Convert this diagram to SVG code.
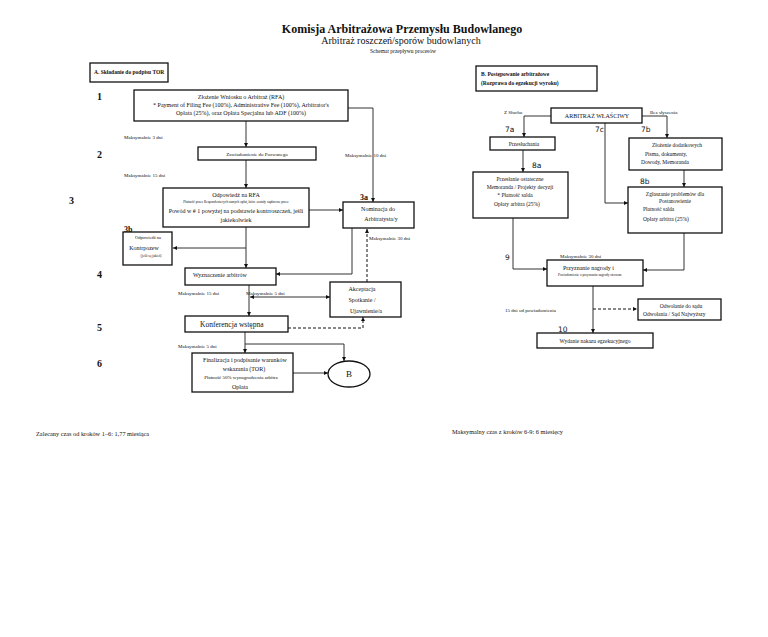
<svg xmlns="http://www.w3.org/2000/svg" width="768" height="637" viewBox="0 0 768 637">
<defs>
<marker id="ah" viewBox="0 0 10 10" refX="10" refY="5" markerWidth="4" markerHeight="4" orient="auto-start-reverse"><path d="M0,0 L10,5 L0,10 z" fill="#111"/></marker>
</defs>
<style>
text{font-family:"Liberation Serif","Times New Roman",serif;fill:#111}
.box{fill:#fff;stroke:#111;stroke-width:1.3}
.ln{fill:none;stroke:#333;stroke-width:1}
.ds{fill:none;stroke:#111;stroke-width:1;stroke-dasharray:3,2}
.num{font-weight:bold;font-size:10px}
.sn{font-size:7.5px;font-family:"DejaVu Sans","Liberation Sans",sans-serif}
.sm{font-size:5px}
.t6{font-size:6px}
.c{text-anchor:middle}
.lab{font-size:5px}
.hd{font-weight:bold;font-size:5.5px}
</style>
<rect width="768" height="637" fill="#fff"/>
<g id="title">
<text x="402" y="33" class="c" style="font-size:12px;font-weight:bold">Komisja Arbitrażowa Przemysłu Budowlanego</text>
<text x="401" y="44" class="c" style="font-size:10px">Arbitraż roszczeń/sporów budowlanych</text>
<text x="403" y="53" class="c" style="font-size:5.5px">Schemat przepływu procesów</text>
</g>
<g id="secA"><rect class="box" x="90" y="63" width="78" height="19"/><text x="94" y="74" class="hd">A. Składanie do podpisu TOR</text></g>
<g id="secB"><rect class="box" x="476" y="66" width="121" height="25"/><text x="481" y="76" class="hd">B. Postępowanie arbitrażowe</text><text x="481" y="85" class="hd">(Rozprawa do egzekucji wyroku)</text></g>
<g id="nums">
<text x="97" y="100" class="num">1</text>
<text x="97" y="158" class="num">2</text>
<text x="69" y="204" class="num">3</text>
<text x="97" y="278" class="num">4</text>
<text x="97" y="331" class="num">5</text>
<text x="97" y="367" class="num">6</text>
<text x="360" y="200" class="num" style="font-size:8px">3a</text>
<text x="124" y="232" class="num" style="font-size:8px">3b</text>
<text x="505" y="132" class="sn">7a</text>
<text x="595" y="132" class="sn">7c</text>
<text x="641" y="132" class="sn">7b</text>
<text x="532" y="168" class="sn">8a</text>
<text x="640" y="184" class="sn">8b</text>
<text x="505" y="260" class="sn">9</text>
<text x="558" y="332" class="sn">10</text>
</g>
<g id="labels" class="lab">
<text x="124" y="139">Maksymalnie 3 dni</text>
<text x="345" y="157">Maksymalnie 10 dni</text>
<text x="124" y="177">Maksymalnie 15 dni</text>
<text x="369" y="240">Maksymalnie 30 dni</text>
<text x="178" y="295">Maksymalnie 15 dni</text>
<text x="246" y="295">Maksymalnie 5 dni</text>
<text x="178" y="348">Maksymalnie 5 dni</text>
<text x="504" y="114">Z Słuchu</text>
<text x="650" y="114">Bez słyszenia</text>
<text x="560" y="258">Maksymalnie 30 dni</text>
<text x="505" y="312">15 dni od powiadomienia</text>
</g>
<g id="connectors">
<path class="ln" d="M246,121 V147" marker-end="url(#ah)"/>
<path class="ln" d="M348,108 H373 V202" marker-end="url(#ah)"/>
<path class="ln" d="M246,160 V188" marker-end="url(#ah)"/>
<path class="ln" d="M309,210 H343" marker-end="url(#ah)"/>
<path class="ln" d="M246,227 V268" marker-end="url(#ah)"/>
<path class="ln" d="M246,248 H173" marker-end="url(#ah)"/>
<path class="ln" d="M352,228 V274 H276" marker-end="url(#ah)"/>
<path class="ds" d="M367,282 V229" marker-end="url(#ah)"/>
<path class="ln" d="M249,285 V316" marker-end="url(#ah)"/>
<path class="ln" d="M250,297 H330" marker-start="url(#ah)" marker-end="url(#ah)"/>
<path class="ds" d="M288,328 H363 V317" marker-end="url(#ah)"/>
<path class="ln" d="M245,332 V353" marker-end="url(#ah)"/>
<path class="ln" d="M245,344 H344 V361" marker-end="url(#ah)"/>
<path class="ln" d="M293,373 H328" marker-end="url(#ah)"/>
<path class="ln" d="M551,116 H524 V137" marker-end="url(#ah)"/>
<path class="ln" d="M642,116 H667 V138" marker-end="url(#ah)"/>
<path class="ln" d="M605,123 V203 H628" marker-end="url(#ah)"/>
<path class="ln" d="M523,150 V172" marker-end="url(#ah)"/>
<path class="ln" d="M684,170 V187" marker-end="url(#ah)"/>
<path class="ln" d="M513,218 V269 H547" marker-end="url(#ah)"/>
<path class="ln" d="M684,233 V270 H643" marker-end="url(#ah)"/>
<path class="ln" d="M593,286 V333" marker-end="url(#ah)"/>
<path class="ds" d="M593,309 H637" marker-end="url(#ah)"/>
</g>
<g id="n1"><rect class="box" x="134" y="90" width="214" height="31"/>
<text x="241" y="99" class="c t6">Złożenie Wniosku o Arbitraż (RFA)</text>
<text x="241" y="107" class="c t6">* Payment of Filing Fee (100%), Administrative Fee (100%), Arbitrator's</text>
<text x="241" y="115" class="c t6">Opłata (25%), oraz Opłata Specjalna lub ADF (100%)</text></g>
<g id="n2"><rect class="box" x="198" y="147" width="118" height="13"/><text x="257" y="156" class="c sm">Zawiadomienie do Pozwanego</text></g>
<g id="n3"><rect class="box" x="163" y="188" width="146" height="39"/>
<text x="236" y="197" class="c t6">Odpowiedź na RFA</text>
<text x="236" y="203" class="c" style="font-size:3.4px">Płatność przez Respondenta tych samych opłat, które zostały zapłacone przez</text>
<text x="236" y="213" class="c t6">Powód w # 1 powyżej na podstawie kontrroszczeń, jeśli</text>
<text x="236" y="222" class="c t6">jakiekolwiek</text></g>
<g id="n3a"><rect class="box" x="343" y="202" width="71" height="26"/>
<text x="378" y="211" class="c t6">Nominacja do</text><text x="381" y="221" class="c t6">Arbitratysta/y</text></g>
<g id="n3b"><rect class="box" x="123" y="232" width="49" height="33"/>
<text x="148" y="239" class="c" style="font-size:4.5px">Odpowiedź na</text>
<text x="144" y="250" class="c t6">Kontrpozew</text>
<text x="151" y="257" class="c" style="font-size:3.5px">(jeśli są jakieś)</text></g>
<g id="n4"><rect class="box" x="185" y="268" width="91" height="17"/><text x="193" y="277" class="t6">Wyznaczenie arbitrów</text></g>
<g id="nAk"><rect class="box" x="330" y="282" width="71" height="35"/>
<text x="362" y="291" class="c t6">Akceptacja</text><text x="362" y="302" class="c t6">Spotkanie /</text><text x="366" y="313" class="c t6">Ujawnienie/a</text></g>
<g id="n5"><rect class="box" x="185" y="316" width="103" height="16"/><text x="200" y="327" style="font-size:7.5px">Konferencja wstępna</text></g>
<g id="n6"><rect class="box" x="192" y="353" width="101" height="39"/>
<text x="245" y="362" class="c t6">Finalizacja i podpisanie warunków</text>
<text x="244" y="371" class="c t6">wskazania (TOR)</text>
<text x="241" y="379" class="c" style="font-size:5px">Płatność 50% wynagrodzenia arbitra</text>
<text x="240" y="389" class="c t6">Opłata</text></g>
<g id="nB"><ellipse class="box" cx="349" cy="374" rx="21" ry="13"/><text x="349" y="377" class="c" style="font-size:9px">B</text></g>
<g id="nArb"><rect class="box" x="551" y="108" width="91" height="15"/><text x="597" y="118" class="c t6">ARBITRAŻ WŁAŚCIWY</text></g>
<g id="n7a"><rect class="box" x="490" y="137" width="65" height="13"/><text x="524" y="146" class="c" style="font-size:5.5px">Przesłuchania</text></g>
<g id="n8a"><rect class="box" x="473" y="172" width="95" height="46"/>
<text x="520" y="181" class="c" style="font-size:5.5px">Przesłanie ostateczne</text>
<text x="520" y="189" class="c" style="font-size:5.5px">Memoranda / Projekty decyzji</text>
<text x="515" y="197" class="c" style="font-size:5.5px">* Płatność salda</text>
<text x="517" y="206" class="c" style="font-size:5.5px">Opłaty arbitra (25%)</text></g>
<g id="n7b"><rect class="box" x="629" y="138" width="93" height="32"/>
<text x="677" y="147" class="c" style="font-size:5.5px">Złożenie dodatkowych</text>
<text x="666" y="156" class="c" style="font-size:5.5px">Pisma, dokumenty,</text>
<text x="665" y="164" class="c" style="font-size:5.5px">Dowody, Memoranda</text></g>
<g id="n8b"><rect class="box" x="628" y="187" width="94" height="46"/>
<text x="675" y="196" class="c" style="font-size:5.5px">Zgłaszanie problemów dla</text>
<text x="675" y="203" class="c" style="font-size:5.5px">Postanowienie</text>
<text x="643" y="211" style="font-size:5.5px">Płatność salda</text>
<text x="643" y="221" style="font-size:5.5px">Opłaty arbitra (25%)</text></g>
<g id="n9"><rect class="box" x="547" y="260" width="96" height="26"/>
<text x="563" y="270" style="font-size:6px">Przyznanie nagrody i</text>
<text x="558" y="276" style="font-size:3.4px">Powiadomienie o przyznaniu nagrody stronom</text></g>
<g id="nOdw"><rect class="box" x="638" y="299" width="83" height="21"/>
<text x="681" y="308" class="c" style="font-size:5.5px">Odwołanie do sądu</text>
<text x="643" y="316" style="font-size:5.5px">Odwołania / Sąd Najwyższy</text></g>
<g id="n10"><rect class="box" x="537" y="333" width="116" height="15"/><text x="595" y="343" class="c" style="font-size:5.5px">Wydanie nakazu egzekucyjnego</text></g>
<g id="footer">
<text x="36" y="436" style="font-size:6.3px">Zalecany czas od kroków 1–6: 1,77 miesiąca</text>
<text x="452" y="434" style="font-size:6.3px">Maksymalny czas z kroków 6-9: 6 miesięcy</text>
</g>
</svg>
